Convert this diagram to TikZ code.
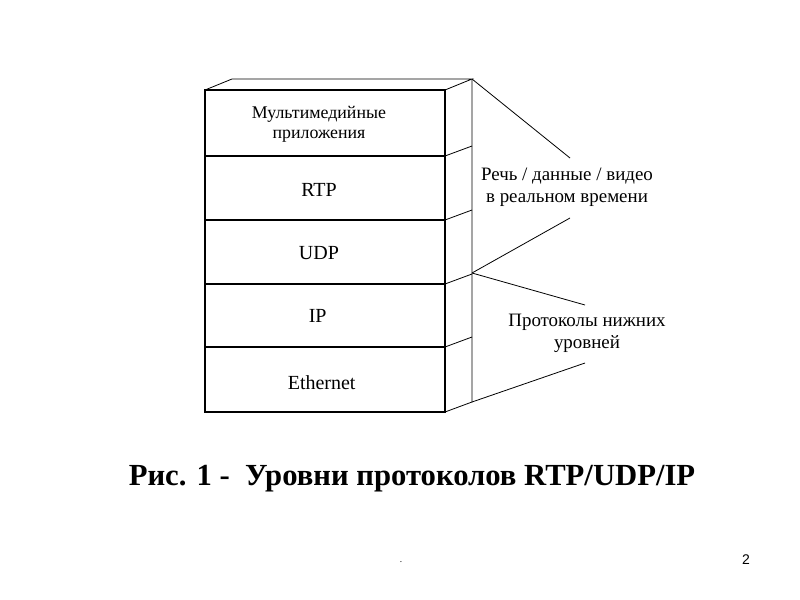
\documentclass[tikz,border=0pt]{standalone}
\usepackage{fontspec}
\setmainfont{Liberation Serif}
\newfontfamily\slidefont{Liberation Sans}
\usetikzlibrary{positioning}

\begin{document}
\begin{tikzpicture}[x=0.75pt,y=-0.75pt,
    layer/.style={rectangle,draw,line width=0.8pt,minimum width=180pt,
        inner sep=0pt,outer sep=0pt},
    lbl/.style={xshift=-4.5pt,align=center,font=\fontsize{15}{17}\selectfont},
    edge/.style={line width=0.6pt},
    note/.style={align=center,font=\fontsize{14.2}{16.5}\selectfont}]
\useasboundingbox (0,0) rectangle (800,600);
% Stack of protocol layers
\node[layer,minimum height=49.5pt,
    label={[lbl,font=\fontsize{13.4}{15}\selectfont,yshift=-1pt]center:Мультимедийные\\приложения}]
    (app) at (325,123) {};
\node[layer,minimum height=48pt,below=0pt of app,
    label={[lbl,yshift=-1.5pt]center:RTP}] (rtp) {};
\node[layer,minimum height=48pt,below=0pt of rtp,
    label={[lbl,yshift=-1pt]center:UDP}] (udp) {};
\node[layer,minimum height=47.25pt,below=0pt of udp,
    label={[lbl,xshift=-1pt,yshift=-0.5pt]center:IP}] (ip) {};
\node[layer,minimum height=48.75pt,below=0pt of ip,
    label={[lbl,xshift=2pt,yshift=-2pt]center:Ethernet}] (eth) {};
\draw[line width=1.3pt] (app.south west) -- (app.south east);
% Top and side faces
\coordinate (bktl) at (232,79);
\coordinate (bktr) at (472,79);
\coordinate (bkbr) at (472,402);
\draw[edge] (app.north west) -- (bktl) -- (bktr) -- (app.north east);
\draw[edge] (bktr) -- (bkbr) -- (eth.south east);
\foreach \n in {app,rtp,udp,ip}
    \draw[edge] (\n.south east) -- ++(27,-10);
% Braces
\coordinate (mid) at (472,273);
\coordinate (rta) at (570,158);
\coordinate (rtb) at (570,218);
\coordinate (lowa) at (585,305);
\coordinate (lowb) at (585,363);
\node[note] (rt) at (567,187) {Речь / данные / видео\\в реальном времени};
\node[note] (low) at (587,333) {Протоколы нижних\\уровней};
\draw[edge] (bktr) -- (rta);
\draw[edge] (mid) -- (rtb);
\draw[edge] (mid) -- (lowa);
\draw[edge] (bkbr) -- (lowb);
% Caption
\node[font=\bfseries\fontsize{23}{26}\selectfont] (cap) at (412,479) {Рис. 1 -\ \ Уровни протоколов RTP/UDP/IP};
\node[font=\fontsize{7}{8}\selectfont] (dot) at (401,562) {.};
\node[font=\slidefont\fontsize{10.5}{12}\selectfont] (num) at (746,560) {2};
\end{tikzpicture}
\end{document}
